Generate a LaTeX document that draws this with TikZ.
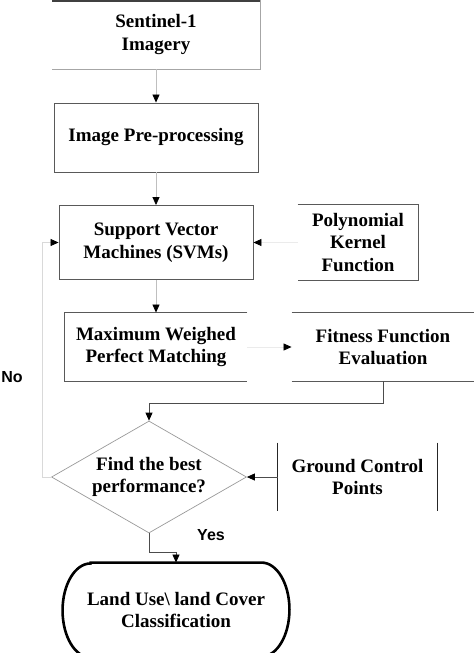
\documentclass[tikz,border=0pt]{standalone}
\usepackage{fontspec}
\setmainfont{Liberation Serif}
\newfontfamily\yesnofont{Liberation Sans}
\usetikzlibrary{arrows.meta,shapes.geometric}

\begin{document}
\begin{tikzpicture}[x=1pt,y=-1pt,
      mybox/.style={
         draw=black!65,
         line width=0.9pt,
         inner sep=0pt,
         align=center,
         font={\fontsize{19}{22.5}\selectfont\bfseries}},
      nobox/.style={mybox,draw=none},
      edgeline/.style={draw=black!65,line width=0.9pt},
      mydiamond/.style={
         diamond,
         draw=black!40,
         line width=0.7pt,
         aspect=1.74,
         inner sep=0pt,
         minimum width=195pt,
         minimum height=112pt,
         align=center,
         font={\fontsize{19}{22.5}\selectfont\bfseries}},
      myarrow/.style={-{Triangle[length=8pt,width=7pt,color=black]},draw=black!25,line width=0.8pt},
      darkarrow/.style={myarrow,draw=black!70},
      mylabel/.style={font={\yesnofont\fontsize{16}{18}\selectfont\bfseries}}
      ]
      \useasboundingbox (0,0) rectangle (474,653);

      \node[nobox, minimum width=208pt, minimum height=69pt] (sent) at (156,34.5) {Sentinel-1\\Imagery};
      \node[mybox, minimum width=204pt, minimum height=69pt] (pre) at (156,137.5) {Image Pre-processing};
      \node[mybox, minimum width=194pt, minimum height=74pt] (svm) at (156,242.5) {Support Vector\\Machines (SVMs)};
      \node[nobox, minimum width=120pt, minimum height=75pt] (poly) at (358,242.5) {Polynomial\\Kernel\\Function};
      \node[nobox, minimum width=182pt, minimum height=68pt] (mwpm) at (156,347) {Maximum Weighed\\Perfect Matching};
      \node[nobox, minimum width=182pt, minimum height=68pt] (fit) at (383,347) {Fitness Function\\Evaluation};
      \node[mydiamond] (dec) at (149,477) {Find the best\\performance?};
      \node[nobox, minimum width=159pt, minimum height=68pt] (gcp) at (357.5,477) {Ground Control\\Points};
      \node[nobox, minimum width=226pt, minimum height=94pt] (lulc) at (176,610) {Land Use\textbackslash\ land Cover\\Classification};

\node[mylabel] (no) at (12,377) {No};
\node[mylabel] (yes) at (211,535) {Yes};

      % box edges that show
      \draw[line width=2.5pt,black!75] ([yshift=-1pt]sent.north west) -- ([yshift=-1pt]sent.north east);
      \draw[edgeline,draw=black!35] (sent.north east) -- (sent.south east) -- (sent.south west);
      \draw[edgeline] (poly.north west) -- (poly.north east) -- (poly.south east) -- (poly.south west);
      \draw[edgeline] (mwpm.north east) -- (mwpm.north west) -- (mwpm.south west) -- (mwpm.south east);
      \draw[edgeline] (fit.north west) -- (fit.north east) (fit.south west) -- (fit.south east);
      \draw[edgeline,draw=black!85] (gcp.north west) -- (gcp.south west) (gcp.north east) -- (gcp.south east);
      \draw[line width=2.6pt] ([xshift=28pt]lulc.north west) -- ([xshift=-28pt]lulc.north east)
         arc[start angle=90,end angle=-90,x radius=28pt,y radius=47pt]
         -- ([xshift=28pt]lulc.south west)
         arc[start angle=270,end angle=90,x radius=28pt,y radius=47pt] -- cycle;

    \foreach \i/\j in {% start node/end node
      sent/pre,
      pre/svm,
      svm/mwpm}
       \draw[myarrow] (\i) -- (\j);

\draw[myarrow,draw=black!8] (poly) -- (svm);
\draw[myarrow,draw=black!8] (mwpm) -- (fit);
\draw[darkarrow] (fit.south) -- ++(0,22) -| (dec.north);
\draw[darkarrow] (gcp.west) -- (dec.east);
\draw[darkarrow] (dec.south) -- ++(0,19) -| (lulc.north);
\draw[myarrow,draw=black!15] (dec.west) -- ++(-9,0) |- (svm.west);
    \end{tikzpicture}
\end{document}
